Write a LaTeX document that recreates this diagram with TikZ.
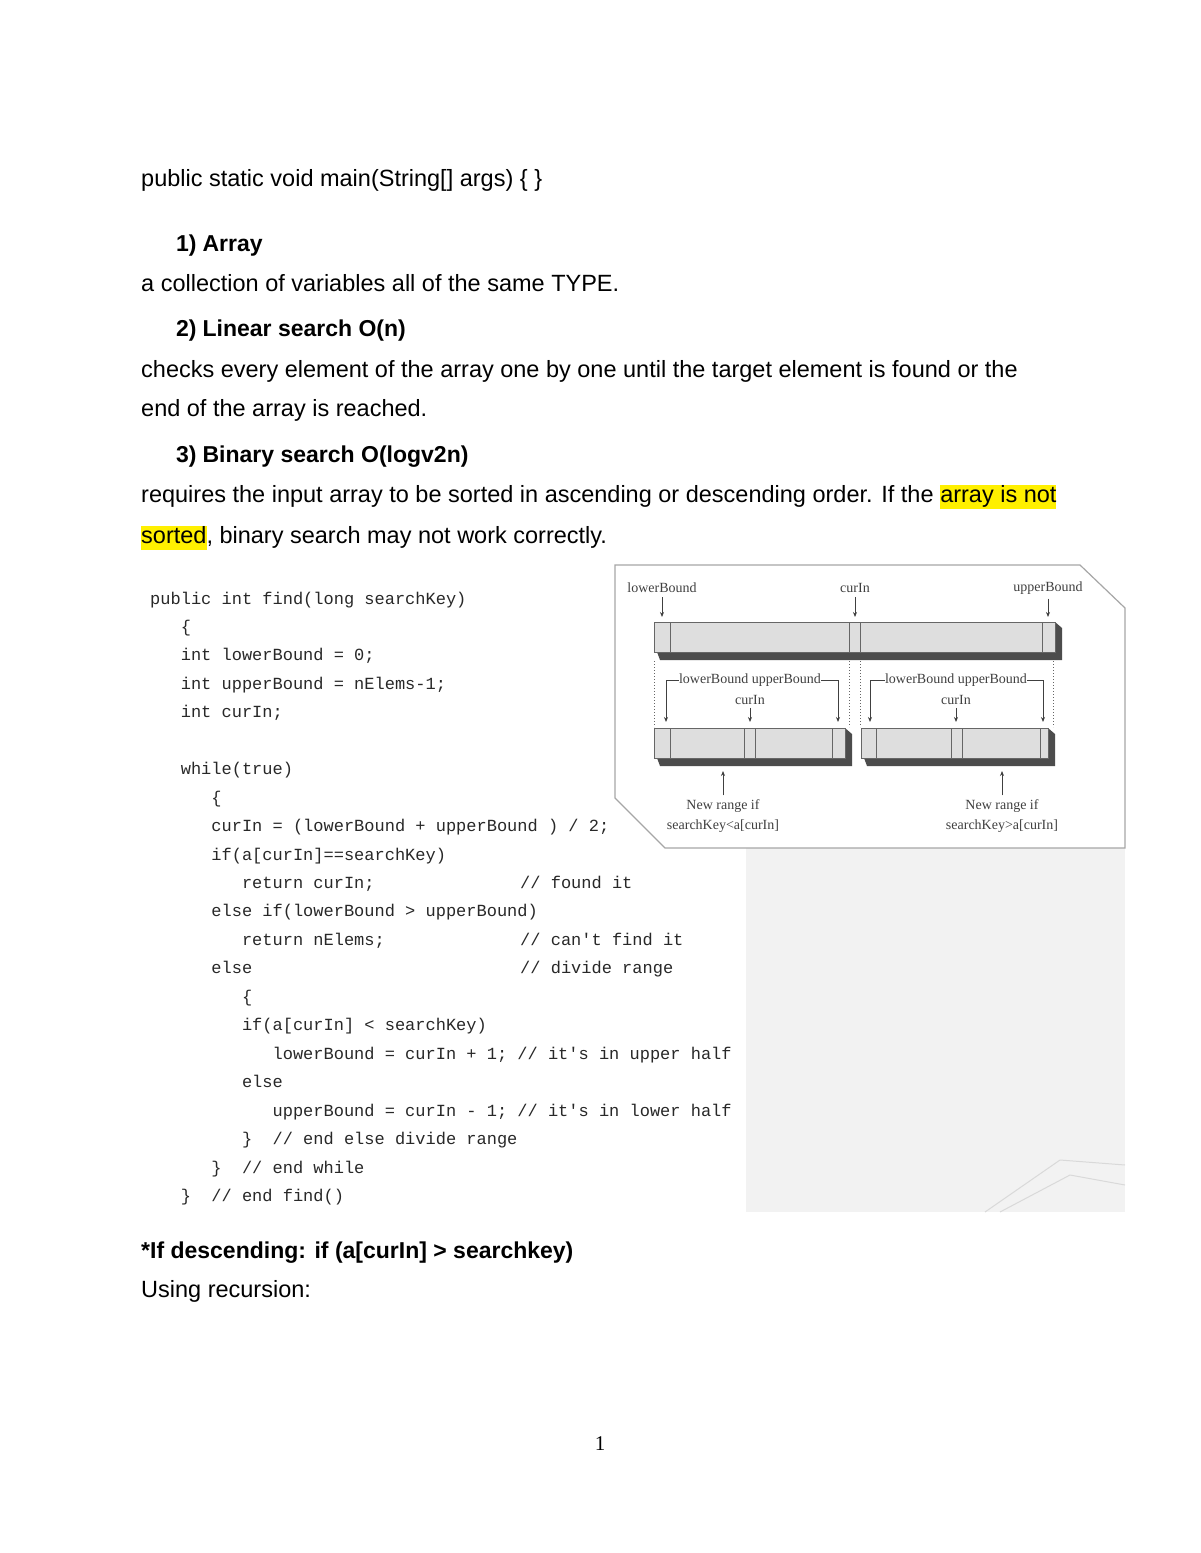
\documentclass[tikz,border=0pt]{standalone}
\usepackage{fontspec}
\setmainfont{Liberation Sans}
\newfontfamily\codefont{Liberation Mono}
\newfontfamily\figfont{Liberation Serif}
\usetikzlibrary{arrows.meta}
\definecolor{hl}{RGB}{255,240,0}
\definecolor{codec}{RGB}{40,40,40}
\definecolor{barf}{RGB}{222,222,222}
\tikzset{
 body/.style={anchor=base west,inner sep=0pt,font=\fontsize{23.5}{23.5}\selectfont},
 bbody/.style={body,font=\fontsize{23}{23}\selectfont\bfseries},
 code/.style={anchor=base west,inner sep=0pt,text=codec,font=\codefont\fontsize{17}{17}\selectfont},
 fl/.style={inner sep=0pt,font=\figfont\fontsize{14}{14}\selectfont,text=black!75},
 farr/.style={-{Stealth[length=5pt,width=4pt]},black!75,line width=0.8pt},
 bar/.style={draw=black!60,fill=barf,line width=0.8pt},
 dots/.style={black!60,dotted,line width=1pt}
}
\newcommand{\mybar}[5]{% x1 x2 y1 y2 dividers
 \fill[black!70] (#1+3,#4) -- (#2,#4) -- (#2,#3) -- (#2+7,#3+6) -- (#2+7,#4+8) -- (#1+6,#4+8) -- cycle;
 \draw[bar] (#1,#3) rectangle (#2,#4);
 \foreach \dd in {#5} \draw[black!60,line width=0.8pt] (\dd,#3) -- (\dd,#4);
}
\begin{document}
\begin{tikzpicture}[x=1pt,y=-1pt]
\useasboundingbox (0,0) rectangle (1200,1553);
\fill[white] (0,0) rectangle (1200,1553);
% body text
\node[body] (t1) at (141,186) {public static void main(String[] args) \{ \}};
\node[bbody] (h1) at (176,251) {1)\hspace{6pt}Array};
\node[body] (t2) at (141,291) {a collection of variables all of the same TYPE.};
\node[bbody] (h2) at (176,336) {2)\hspace{6pt}Linear search O(n)};
\node[body] (t3) at (141,377) {checks every element of the array one by one until the target element is found or the};
\node[body] (t4) at (141,416) {end of the array is reached.};
\node[bbody] (h3) at (176,462) {3)\hspace{6pt}Binary search O(logv2n)};
\node[body] (t5) at (141,502) {requires the input array to be sorted in ascending or descending order. If the {\fboxsep=0pt\colorbox{hl}{\strut array is not}}};
\node[body] (t6) at (141,543) {{\fboxsep=0pt\colorbox{hl}{\strut sorted}}, binary search may not work correctly.};
% figure background
\fill[black!5] (746,848) rectangle (1125,1212);
\draw[black!35,fill=white,line width=1.2pt] (615,565) -- (1080,565) -- (1125,608) -- (1125,848) -- (665,848) -- (615,798) -- cycle;
\draw[black!15,line width=1pt] (985,1212) -- (1060,1160) -- (1125,1165);
\draw[black!15,line width=1pt] (1000,1212) -- (1070,1175) -- (1125,1185);
% bars
\mybar{654}{1055}{622}{652}{670,849,860,1042}
\mybar{654}{845}{728}{758}{670,744,755,832}
\mybar{861}{1048}{728}{758}{876,951,962,1040}
% top labels
\node[fl] (lb) at (662,588) {lowerBound};
\node[fl] (ci) at (855,588) {curIn};
\node[fl] (ub) at (1048,588) {upperBound};
\coordinate (lbe) at (662,617);
\coordinate (cie) at (855,617);
\coordinate (ube) at (1048,617);
\draw[farr] ([yshift=-4pt]lb.south) -- (lbe);
\draw[farr] ([yshift=-4pt]ci.south) -- (cie);
\draw[farr] ([yshift=-4pt]ub.south) -- (ube);
% dotted
\foreach \x in {654,849,860,1053} \draw[dots] (\x,661) -- (\x,727);
% brackets
\node[fl] (lb2) at (750,680) {lowerBound upperBound};
\node[fl] (ci2) at (750,700) {curIn};
\coordinate (a1) at (666,722);
\coordinate (a2) at (838,722);
\coordinate (a3) at (750,722);
\draw[farr] (lb2.west) -| (a1);
\draw[farr] (lb2.east) -| (a2);
\draw[farr] ([yshift=-3pt]ci2.south) -- (a3);
\node[fl] (lb3) at (956,680) {lowerBound upperBound};
\node[fl] (ci3) at (956,700) {curIn};
\coordinate (b1) at (870,722);
\coordinate (b2) at (1043,722);
\coordinate (b3) at (956,722);
\draw[farr] (lb3.west) -| (b1);
\draw[farr] (lb3.east) -| (b2);
\draw[farr] ([yshift=-3pt]ci3.south) -- (b3);
% new range
\node[fl] (n1) at (723,806) {New range if};
\node[fl] (s1) at (723,826) {searchKey<a[curIn]};
\coordinate (r1) at (723,771);
\draw[farr] ([yshift=4pt]n1.north) -- (r1);
\node[fl] (n2) at (1002,806) {New range if};
\node[fl] (s2) at (1002,826) {searchKey>a[curIn]};
\coordinate (r2) at (1002,771);
\draw[farr] ([yshift=4pt]n2.north) -- (r2);
% code
\def\cy{604}
\foreach \lvl/\ln/\txt in {
0/0/{public int find(long searchKey)},
1/1/{\{},
1/2/{int lowerBound = 0;},
1/3/{int upperBound = nElems-1;},
1/4/{int curIn;},
1/6/{while(true)},
2/7/{\{},
2/8/{curIn = (lowerBound + upperBound ) / 2;},
2/9/{if(a[curIn]==searchKey)},
3/10/{return curIn;},
2/11/{else if(lowerBound > upperBound)},
3/12/{return nElems;},
2/13/{else},
3/14/{\{},
3/15/{if(a[curIn] < searchKey)},
4/16/{lowerBound = curIn + 1; // it's in upper half},
3/17/{else},
4/18/{upperBound = curIn - 1; // it's in lower half},
3/19/{\}~~// end else divide range},
2/20/{\}~~// end while},
1/21/{\}~~// end find()}}
{\node[code] (c\ln) at ({150+30.6*\lvl},{\cy+28.45*\ln}) {\txt};}
\node[code] (k1) at (520,{\cy+28.45*10}) {// found it};
\node[code] (k2) at (520,{\cy+28.45*12}) {// can't find it};
\node[code] (k3) at (520,{\cy+28.45*13}) {// divide range};
% after
\node[bbody] (d1) at (141,1258) {*If descending: if (a[curIn] > searchkey)};
\node[body] (d2) at (141,1297) {Using recursion:};
\node[anchor=base,inner sep=0pt,font=\figfont\fontsize{21}{21}\selectfont] (pg) at (600,1450) {1};
\end{tikzpicture}
\end{document}
